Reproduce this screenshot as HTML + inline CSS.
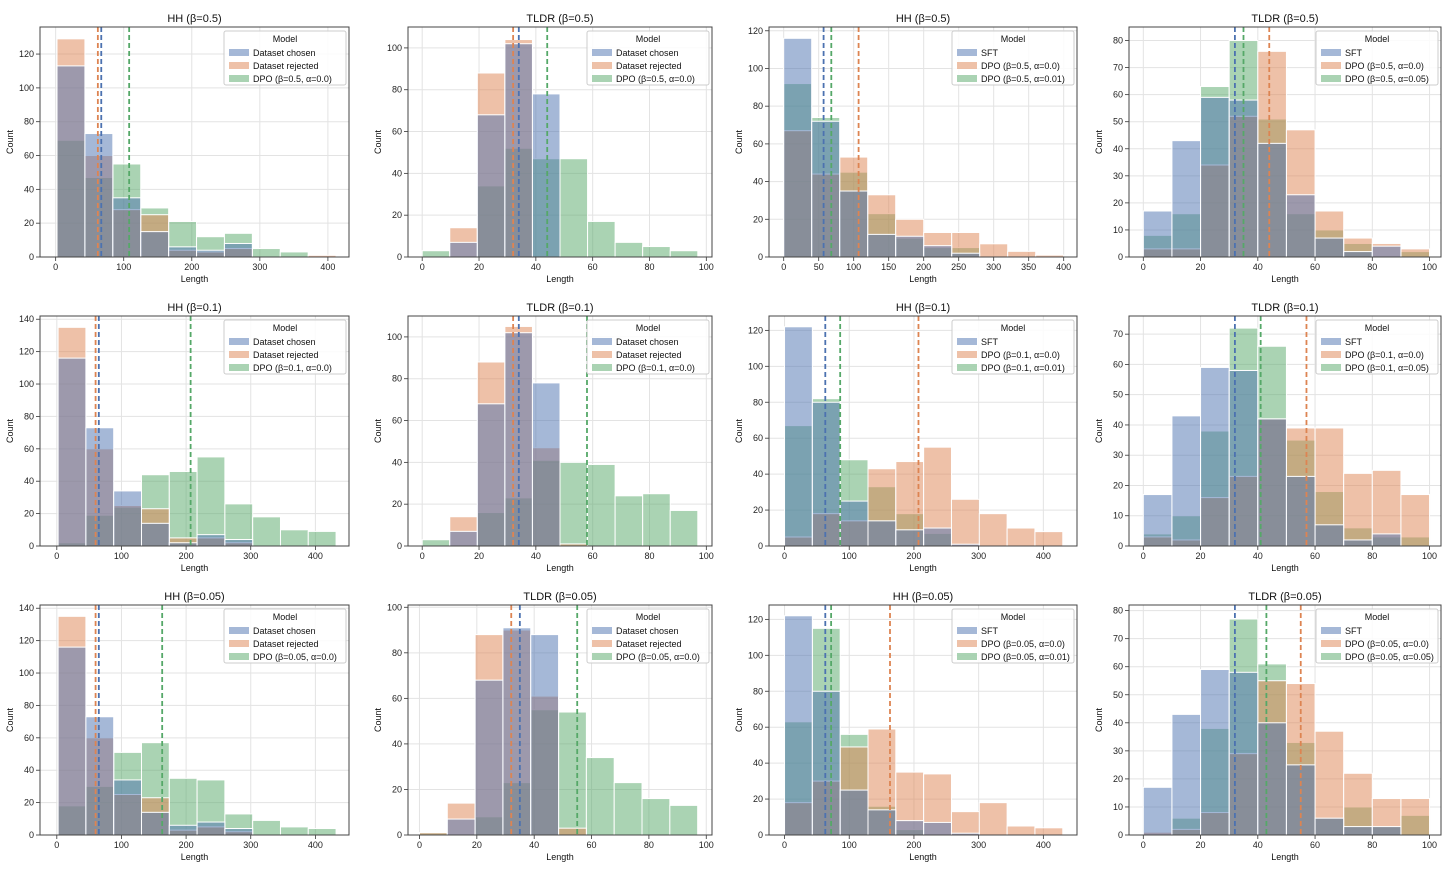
<!DOCTYPE html>
<html><head><meta charset="utf-8"><style>
body{margin:0;background:#fff;font-family:"Liberation Sans",sans-serif}
svg{display:block}
</style></head><body>
<svg id="fig" width="1449" height="870" xmlns="http://www.w3.org/2000/svg"></svg>
<script>
// ---------- data ----------
const hhBinsR1a = 41, hhBinsR1b = 40, hhBinsR23 = 43, tldrBin = 9.7;
const panelTitles = ["HH (β=0.5)","TLDR (β=0.5)","HH (β=0.5)","TLDR (β=0.5)","HH (β=0.1)","TLDR (β=0.1)","HH (β=0.1)","TLDR (β=0.1)","HH (β=0.05)","TLDR (β=0.05)","HH (β=0.05)","TLDR (β=0.05)"];
const legendLabels = [
 ["Dataset chosen","Dataset rejected","DPO (β=0.5, α=0.0)"],
 ["Dataset chosen","Dataset rejected","DPO (β=0.5, α=0.0)"],
 ["SFT","DPO (β=0.5, α=0.0)","DPO (β=0.5, α=0.01)"],
 ["SFT","DPO (β=0.5, α=0.0)","DPO (β=0.5, α=0.05)"],
 ["Dataset chosen","Dataset rejected","DPO (β=0.1, α=0.0)"],
 ["Dataset chosen","Dataset rejected","DPO (β=0.1, α=0.0)"],
 ["SFT","DPO (β=0.1, α=0.0)","DPO (β=0.1, α=0.01)"],
 ["SFT","DPO (β=0.1, α=0.0)","DPO (β=0.1, α=0.05)"],
 ["Dataset chosen","Dataset rejected","DPO (β=0.05, α=0.0)"],
 ["Dataset chosen","Dataset rejected","DPO (β=0.05, α=0.0)"],
 ["SFT","DPO (β=0.05, α=0.0)","DPO (β=0.05, α=0.01)"],
 ["SFT","DPO (β=0.05, α=0.0)","DPO (β=0.05, α=0.05)"]];
// series values per panel [blue, orange, green]
const blueVals = [
 [113,73,35,15,6,4,8,0,0,0],[0,7,68,102,78,0,0,0,0,0],[116,72,35,12,11,6,2,0,0,0],[17,43,59,58,42,23,7,2,4,0],
 [116,73,34,14,2,7,4,0,0,0],[0,7,68,102,78,0,0,0,0,0],[122,80,25,14,9,10,1,0,0,0],[17,43,59,58,42,23,7,2,4,0],
 [116,73,34,14,6,8,4,0,0,0],[0,7,68,91,88,0,0,0,0,0],[122,80,25,14,8,7,1,0,0,0],[17,43,59,58,40,25,6,3,3,0]];
const orangeVals = [
 [129,60,28,25,4,3,5,0,0,1],[0,14,88,104,0,0,0,0,0,0],[67,44,53,33,20,13,13,7,3,1],[3,3,34,52,76,47,17,7,5,3],
 [135,60,25,23,5,5,2,0,0,0],[0,14,88,105,47,1,0,0,0,0],[5,18,14,43,47,55,26,18,10,8],[3,2,16,23,42,39,39,24,25,17],
 [135,60,25,23,3,5,2,0,0,0],[1,14,88,90,61,3,0,0,0,0],[18,30,49,59,35,34,13,18,5,4],[1,2,8,29,55,54,37,22,13,13]];
const greenVals = [
 [69,47,55,29,21,12,14,5,3,0],[3,0,34,52,47,47,17,7,5,3],[92,74,45,23,10,5,5,0,0,0],[8,16,63,80,51,16,10,5,0,2],
 [2,19,24,44,46,55,26,18,10,9],[3,0,16,23,41,40,39,24,25,17],[67,82,48,33,18,7,0,0,0,0],[4,10,38,72,66,35,18,6,3,3],
 [18,30,51,57,35,34,13,9,5,4],[1,0,8,23,55,54,34,23,16,13],[63,115,56,16,3,0,0,0,0,0],[0,6,38,77,61,33,6,10,3,7]];
const meanVals = [[67,62,108],[34,32,44],[57,107,68],[32,44,35],[65,60,207],[34,32,58],[63,207,86],[32,57,41],[65,60,163],[35,32,55],[63,163,72],[32,55,43]];
const binWidths = [hhBinsR1a,tldrBin,hhBinsR1b,10,hhBinsR23,tldrBin,hhBinsR23,10,hhBinsR23,tldrBin,hhBinsR23,10];
const binStarts = [2,0,0,0,2,0,0,0,2,0,0,0];
const xLims = [[-23,431],[-5,102],[-21,419],[-5,104],[-26,452],[-5,102],[-24,452],[-5,104],[-26,452],[-4,102],[-24,452],[-5,104]];
const yMaxes = [136,110,122,85,142,110,128,76,142,101,128,82];
const yTicks = [[0,20,40,60,80,100,120],[0,20,40,60,80,100],[0,20,40,60,80,100,120],[0,10,20,30,40,50,60,70,80],
 [0,20,40,60,80,100,120,140],[0,20,40,60,80,100],[0,20,40,60,80,100,120],[0,10,20,30,40,50,60,70],
 [0,20,40,60,80,100,120,140],[0,20,40,60,80,100],[0,20,40,60,80,100,120],[0,10,20,30,40,50,60,70,80]];
const xTicksHH = [0,100,200,300,400], xTicksHH3 = [0,50,100,150,200,250,300,350,400], xTicksT = [0,20,40,60,80,100];
// ---------- layout ----------
const colX = [[40,349],[408,712],[769,1077],[1129,1441]];
const rowY = [[27,257],[316,546],[605,835]];
const colors = ["#4c72b0","#dd8452","#55a868"];
const NS="http://www.w3.org/2000/svg";
const svg=document.getElementById('fig');
function mk(tag,attrs,parent,text){const e=document.createElementNS(NS,tag);for(const k in attrs)e.setAttribute(k,attrs[k]);if(text!==undefined)e.textContent=text;(parent||svg).appendChild(e);return e;}

for(let p=0;p<12;p++){
  const r=Math.floor(p/4), c=p%4;
  const [x0,x1]=colX[c], [y0,y1]=rowY[r];
  const [xa,xb]=xLims[p], ym=yMaxes[p];
  const X=v=>x0+(v-xa)/(xb-xa)*(x1-x0);
  const Y=v=>y1-v/ym*(y1-y0);
  const g=mk('g',{});
  
  
  mk('rect',{x:x0,y:y0,width:x1-x0,height:y1-y0,fill:'#fff'},g);
  const isT = c%2===1;
  const xt = isT? xTicksT : (p===2? xTicksHH3 : xTicksHH);
  xt.forEach(t=>{
    mk('line',{x1:X(t),x2:X(t),y1:y0,y2:y1,stroke:'#e3e3e3','stroke-width':1},g);
    mk('line',{x1:X(t),x2:X(t),y1:y1,y2:y1+4,stroke:'#333','stroke-width':0.8},g);
    const tl=mk('text',{x:X(t),y:y1+13,'font-size':9,'text-anchor':'middle',fill:'#222'},g,String(t));
    
    
  });
  yTicks[p].forEach(t=>{
    mk('line',{x1:x0,x2:x1,y1:Y(t),y2:Y(t),stroke:'#e3e3e3','stroke-width':1},g);
    mk('line',{x1:x0-4,x2:x0,y1:Y(t),y2:Y(t),stroke:'#333','stroke-width':0.8},g);
    const tl=mk('text',{x:x0-6,y:Y(t)+3,'font-size':9,'text-anchor':'end',fill:'#222'},g,String(t));
    
    
  });
  const series=[blueVals[p],orangeVals[p],greenVals[p]];
  [2,1,0].forEach(s=>{
    const vals=series[s];
    vals.forEach((v,i)=>{
      if(v<=0)return;
      const a=binStarts[p]+i*binWidths[p], b=a+binWidths[p];
      const rc=mk('rect',{x:X(a),y:Y(v),width:X(b)-X(a),height:Y(0)-Y(v),fill:colors[s],'fill-opacity':0.5,stroke:'#fff','stroke-width':1},g);
      
      
    });
  });
  meanVals[p].forEach((m,s)=>{
    const ln=mk('line',{x1:X(m),x2:X(m),y1:y0,y2:y1,stroke:colors[s],'stroke-width':1.8,'stroke-dasharray':'5,3'},g);
    
    
  });
  mk('rect',{x:x0,y:y0,width:x1-x0,height:y1-y0,fill:'none',stroke:'#444','stroke-width':1},g);
  const tt=mk('text',{x:(x0+x1)/2,y:y0-5,'font-size':11,'text-anchor':'middle',fill:'#111'},g,panelTitles[p]);
  
  
  const xl=mk('text',{x:(x0+x1)/2,y:y1+25,'font-size':9,'text-anchor':'middle',fill:'#111'},g,'Length');
  
  
  const yl=mk('text',{x:0,y:0,'font-size':9,'text-anchor':'middle',fill:'#111',transform:`translate(${x0-27},${(y0+y1)/2}) rotate(-90)`},g,'Count');
  
  
  // legend
  const lw = 122, lh=54, lx=x1-lw-3, ly=y0+4;
  const lg=mk('g',{},g);
  
  
  mk('rect',{x:lx,y:ly,width:lw,height:lh,fill:'#fff','fill-opacity':0.85,stroke:'#ccc',rx:2},lg);
  mk('text',{x:lx+lw/2,y:ly+11,'font-size':9,'text-anchor':'middle',fill:'#111'},lg,'Model');
  legendLabels[p].forEach((lab,s)=>{
    const ey=ly+18+s*13;
    const e=mk('g',{},lg);
    
    
    mk('rect',{x:lx+5,y:ey,width:20,height:7,fill:colors[s],'fill-opacity':0.5},e);
    mk('text',{x:lx+29,y:ey+7,'font-size':9,fill:'#111'},e,lab);
  });
}
</script>
</body></html>
